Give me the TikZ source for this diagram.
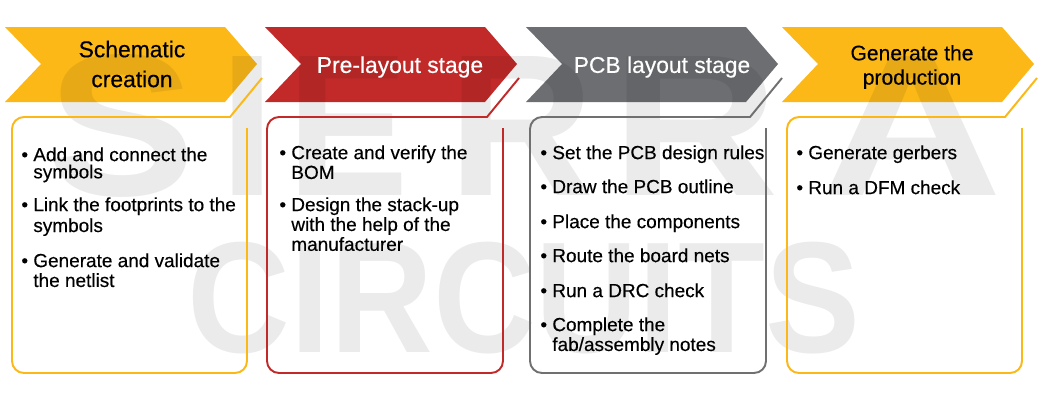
\documentclass[tikz,border=0pt]{standalone}
\usepackage{fontspec}
\setmainfont{Liberation Sans}
\newfontfamily\medfont[FakeBold=0.35]{Liberation Sans}
\definecolor{chyellow}{HTML}{FBB817}
\definecolor{chred}{HTML}{C22A2A}
\definecolor{chgray}{HTML}{6D6E71}
\definecolor{lngray}{HTML}{707070}
\newcommand{\bul}{\llap{\textbullet\hspace{3pt}}}
\tikzset{
  stage/.style={inner sep=0pt, align=center, font=\medfont\fontsize{13}{17}\selectfont},
  entry/.style={anchor=north west, inner sep=0pt, align=left, font=\medfont\fontsize{10.8}{11.3}\selectfont},
  boxline/.style={line width=1.1pt},
  wmark/.style={anchor=base, inner sep=0pt, text=black, text opacity=0.08},
}
\begin{document}
\begin{tikzpicture}[x=0.02cm, y=-0.02cm]
      \fill[white] (0,0) rectangle (1050,400);
      \useasboundingbox (0,0) rectangle (1050,400);
      \foreach \ox/\col in {5/chyellow, 265/chred, 526/chgray, 782/chyellow}
        \fill[\col] (\ox,27) -- ++(220,0) -- ++(32,37) -- ++(-32,38) -- ++(-220,0) -- ++(36,-38) -- cycle;
      \foreach \l/\x/\s in {S/122/1.1, I/248/1, E/348/0.9, R/521/1, R/695/1.15, A/912/1.25}
        \node[wmark, font=\fontsize{115}{115}\selectfont\bfseries] (top\x) at (\x,195) {\scalebox{\s}[1]{\l}};
      \node[wmark, font=\fontsize{90}{90}\selectfont\bfseries] (bottom) at (524,352) {\scalebox{0.9}[1]{CIRCUITS}};
      \begin{scope}[boxline]
        \draw[chyellow] (262,78) -- (230,117) -- (200,117) [rounded corners=0.24cm] -- (12,117) -- (12,373) -- (247,373) -- (247,128);
        \draw[chred] (519,78) -- (487,117) -- (460,117) [rounded corners=0.24cm] -- (267,117) -- (267,373) -- (503,373) -- (503,128);
        \draw[lngray] (782,78) -- (750,117) -- (720,117) [rounded corners=0.24cm] -- (530,117) -- (530,373) -- (766,373) -- (766,128);
        \draw[chyellow] (1037,78) -- (1005,117) -- (980,117) [rounded corners=0.24cm] -- (787,117) -- (787,373) -- (1022,373) -- (1022,128);
      \end{scope}
      \node[stage] (sch) at (132,64) {Schematic\\creation};
      \node[stage, text=white] (pre) at (400,67) {Pre-layout stage};
      \node[stage, text=white] (pcb) at (662,67) {PCB layout stage};
      \node[stage, font=\medfont\fontsize{12}{13.8}\selectfont] (gen) at (912,67) {Generate the\\production};
      \node[entry, font=\medfont\fontsize{10.8}{9.8}\selectfont] (sch1) at (33,147) {\bul Add and connect the\\symbols};
      \node[entry, font=\medfont\fontsize{10.8}{11.9}\selectfont] (sch2) at (33,197) {\bul Link the footprints to the\\symbols};
      \node[entry] (sch3) at (33,253) {\bul Generate and validate\\the netlist};
      \node[entry] (pre1) at (291,145) {\bul Create and verify the\\BOM};
      \node[entry] (pre2) at (291,197) {\bul Design the stack-up\\with the help of the\\manufacturer};
      \node[entry] (pcb1) at (552,145) {\bul Set the PCB design rules};
      \node[entry] (pcb2) at (552,179) {\bul Draw the PCB outline};
      \node[entry] (pcb3) at (552,214) {\bul Place the components};
      \node[entry] (pcb4) at (552,248) {\bul Route the board nets};
      \node[entry] (pcb5) at (552,283) {\bul Run a DRC check};
      \node[entry] (pcb6) at (552,317) {\bul Complete the\\fab/assembly notes};
      \node[entry] (gen1) at (808,145) {\bul Generate gerbers};
      \node[entry] (gen2) at (808,180) {\bul Run a DFM check};
    \end{tikzpicture}
\end{document}
